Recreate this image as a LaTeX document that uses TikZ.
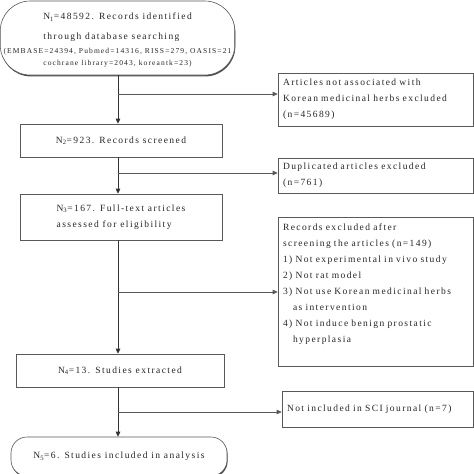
\documentclass[tikz,border=0pt]{standalone}
\usepackage{fontspec}
\setmainfont{Liberation Serif}[LetterSpace=15]
\usetikzlibrary{arrows.meta,shadows}
\begin{document}
\begin{tikzpicture}[x=1pt,y=-1pt]
    % Stile per i nodi
    \tikzstyle{boxshadow}=[drop shadow={shadow xshift=0.6pt, shadow yshift=-1.4pt, fill=gray!60!black, opacity=1}]
    \tikzstyle{stepbox}=[rectangle, draw=gray!70!black, line width=0.6pt, fill=white, boxshadow, minimum width=202pt, text=black!85, font=\fontsize{9.5}{16}\selectfont]
    \tikzstyle{excluded}=[stepbox, minimum width=195pt, text width=185pt, align=left, inner xsep=5pt]
    \tikzstyle{terminal}=[stepbox, rounded corners=30pt, align=center]
    \tikzstyle{arrow}=[-{Triangle[length=5pt,width=4.5pt]}, line width=0.9pt, black!80]
    \tikzstyle{branch}=[-{Triangle[length=5pt,width=4.5pt]}, line width=0.6pt, gray!70!black]

    \useasboundingbox (0,0) rectangle (474,474);

    % Ricerca iniziale
    \node[terminal, minimum width=229pt, minimum height=74pt] (search) at (117.5,38) {\begin{tabular}{@{}l@{}}N\textsubscript{1}=48592. Records identified\\[4pt]through database searching\end{tabular}\\[3pt]{\fontsize{7.5}{12}\selectfont (EMBASE=24394, Pubmed=14316, RISS=279, OASIS=21}\\[-4pt]{\fontsize{7.5}{12}\selectfont cochrane library=2043, koreantk=23)}};

    % Passi centrali
    \node[stepbox, minimum height=33pt] (screened) at (121,140.5) {N\textsubscript{2}=923. Records screened};
    \node[stepbox, minimum height=46pt, align=left] (fulltext) at (121,217) {N\textsubscript{3}=167. Full-text articles\\assessed for eligibility};
    \node[stepbox, minimum width=208pt, minimum height=33pt] (extracted) at (120,370.5) {N\textsubscript{4}=13. Studies extracted};
    \node[terminal, rounded corners=16pt, minimum width=216pt, minimum height=39pt] (included) at (119,456.5) {N\textsubscript{5}=6. Studies included in analysis};

    % Esclusioni
    \node[excluded, minimum height=53pt] (notherbs) at (375.5,99.5) {Articles not associated with\\Korean medicinal herbs excluded\\(n=45689)};
    \node[excluded, minimum height=35pt] (duplicated) at (375.5,175.5) {Duplicated articles excluded\\(n=761)};
    \node[excluded, minimum height=149pt] (screening) at (375.5,291.5) {Records excluded after\\screening the articles (n=149)\\1) Not experimental in vivo study\\2) Not rat model\\3) Not use Korean medicinal herbs\\\hspace*{10pt}as intervention\\4) Not induce benign prostatic\\\hspace*{10pt}hyperplasia\\\mbox{}};
    \node[excluded, minimum width=191pt, text width=181pt, minimum height=36pt] (notsci) at (377.5,409) {Not included in SCI journal (n=7)};

    % Frecce
    \coordinate (spine) at (118,0);
    \draw[arrow] (search.south -| spine) -- (screened.north -| spine);
    \draw[arrow] (screened.south -| spine) -- (fulltext.north -| spine);
    \draw[arrow] (fulltext.south -| spine) -- (extracted.north -| spine);
    \draw[arrow] (extracted.south -| spine) -- (included.north -| spine);

    % Diramazioni verso le esclusioni
    \coordinate (b1) at (118,94);
    \coordinate (b2) at (118,173);
    \coordinate (b3) at (118,292);
    \coordinate (b4) at (118,412);
    \draw[branch] (b1) -- (b1 -| notherbs.west);
    \draw[branch] (b2) -- (b2 -| duplicated.west);
    \draw[branch] (b3) -- (b3 -| screening.west);
    \draw[branch] (b4) -- (b4 -| notsci.west);
\end{tikzpicture}
\end{document}
